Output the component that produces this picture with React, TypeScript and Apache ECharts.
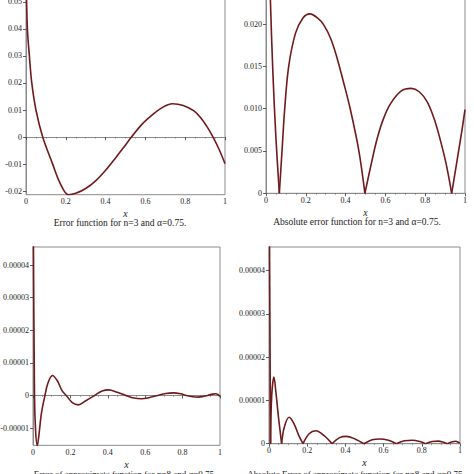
import React, { useEffect, useRef } from "react";
import * as echarts from "echarts";

// ---- Data ----
// Top-left: error function, n=3, alpha=0.75
const errX = [0, 0.007, 0.017, 0.029, 0.05, 0.084, 0.134, 0.171, 0.213, 0.25, 0.3, 0.35, 0.4, 0.45, 0.5, 0.53, 0.58, 0.63, 0.68, 0.735, 0.79, 0.844, 0.877, 0.911, 0.94, 0.97, 1.0];
const errY = [0.062, 0.04, 0.03, 0.02, 0.01, 0, -0.01, -0.017, -0.0213, -0.0208, -0.019, -0.0162, -0.0123, -0.0077, -0.0029, 0, 0.0045, 0.0079, 0.0107, 0.0123, 0.0117, 0.0097, 0.0072, 0.0037, 0, -0.0045, -0.0098];

// Top-right: absolute error, arches between zeros
const absErrArchesX = [
  [0, 0.007, 0.014, 0.022, 0.035, 0.05, 0.067],
  [0.067, 0.0805, 0.094, 0.114, 0.148, 0.185, 0.22, 0.26, 0.29, 0.325, 0.357, 0.39, 0.424, 0.466, 0.497],
  [0.497, 0.53, 0.559, 0.59, 0.626, 0.68, 0.73, 0.77, 0.81, 0.845, 0.877, 0.905, 0.933],
  [0.933, 0.95, 0.97, 0.985, 1.0],
];
const absErrArchesY = [
  [0.062, 0.04, 0.03, 0.0229, 0.014, 0.0065, 0],
  [0, 0.005, 0.01, 0.015, 0.0189, 0.0207, 0.0212, 0.0207, 0.0199, 0.0183, 0.016, 0.0131, 0.0099, 0.0051, 0],
  [0, 0.0036, 0.0065, 0.0088, 0.0106, 0.0121, 0.0124, 0.012, 0.0108, 0.0088, 0.0062, 0.0035, 0],
  [0, 0.0024, 0.0053, 0.0075, 0.0099],
];

// Bottom-left: error function (second case)
const err2X = [0, 0.008, 0.014, 0.023, 0.032, 0.045, 0.064, 0.08, 0.104, 0.13, 0.155, 0.178, 0.21, 0.242, 0.28, 0.33, 0.37, 0.405, 0.45, 0.497, 0.54, 0.58, 0.62, 0.667, 0.71, 0.75, 0.79, 0.82, 0.855, 0.885, 0.91, 0.934, 0.96, 0.978, 0.99, 1.0];
const err2Y = [7e-5, 0, -1.1e-5, -1.54e-5, -1.2e-5, -0.55e-5, 0, 0.38e-5, 0.61e-5, 0.45e-5, 0.15e-5, 0, -0.22e-5, -0.29e-5, -0.17e-5, 0, 0.14e-5, 0.17e-5, 0.1e-5, 0, -0.08e-5, -0.1e-5, -0.07e-5, 0, 0.06e-5, 0.08e-5, 0.05e-5, 0, -0.04e-5, -0.05e-5, -0.03e-5, 0, 0.04e-5, 0.05e-5, 0.02e-5, -0.03e-5];

// Bottom-right: absolute error (second case), arches between zeros
const absErr2ArchesX = [
  [0, 0.008],
  [0.008, 0.014, 0.026, 0.036, 0.05, 0.066],
  [0.066, 0.08, 0.105, 0.13, 0.155, 0.178],
  [0.178, 0.21, 0.245, 0.29, 0.33],
  [0.33, 0.37, 0.405, 0.45, 0.497],
  [0.497, 0.54, 0.58, 0.625, 0.667],
  [0.667, 0.71, 0.75, 0.79, 0.82],
  [0.82, 0.855, 0.885, 0.91, 0.934],
  [0.934, 0.96, 0.978, 0.993, 1.0],
];
const absErr2ArchesY = [
  [7e-5, 0],
  [0, 1.1e-5, 1.54e-5, 1.2e-5, 0.6e-5, 0],
  [0, 0.38e-5, 0.61e-5, 0.47e-5, 0.2e-5, 0],
  [0, 0.23e-5, 0.3e-5, 0.18e-5, 0],
  [0, 0.14e-5, 0.17e-5, 0.11e-5, 0],
  [0, 0.09e-5, 0.11e-5, 0.08e-5, 0],
  [0, 0.07e-5, 0.08e-5, 0.05e-5, 0],
  [0, 0.05e-5, 0.06e-5, 0.04e-5, 0],
  [0, 0.045e-5, 0.055e-5, 0.03e-5, 0.02e-5],
];

// Tick values and labels
const xTicks = [0, 0.2, 0.4, 0.6, 0.8, 1];
const xTickLabels = ["0", "0.2", "0.4", "0.6", "0.8", "1"];
const tlTicks = [-0.02, -0.01, 0, 0.01, 0.02, 0.03, 0.04, 0.05];
const tlTickLabels = ["-0.02", "-0.01", "0", "0.01", "0.02", "0.03", "0.04", "0.05"];
const trTicks = [0, 0.005, 0.01, 0.015, 0.02];
const trTickLabels = ["0", "0.005", "0.010", "0.015", "0.020"];
const blTicks = [-0.00001, 0, 0.00001, 0.00002, 0.00003, 0.00004];
const blTickLabels = ["-0.00001", "0", "0.00001", "0.00002", "0.00003", "0.00004"];
const brTicks = [0, 0.00001, 0.00002, 0.00003, 0.00004];
const brTickLabels = ["0", "0.00001", "0.00002", "0.00003", "0.00004"];

const captions = [
  "Error function for n=3 and α=0.75.",
  "Absolute error function for n=3 and α=0.75.",
  "Error of approximate function for n=8 and α=0.75.",
  "Absolute Error of approximate function for n=8 and α=0.75.",
];

const FONT = "Liberation Serif";
const LINE_COLOR = "#6f1a1c";
const FRAME = "#8a8a8a";

function pairs(xs: number[], ys: number[]) {
  return xs.map((x, i) => [x, ys[i]]);
}

function lookupLabel(ticks: number[], labels: string[]) {
  return (v: number) => {
    const i = ticks.findIndex((t) => Math.abs(t - v) < Math.abs(t) * 1e-6 + 1e-12);
    return i >= 0 ? labels[i] : "";
  };
}

export default function App() {
  const ref = useRef<HTMLDivElement>(null);
  useEffect(() => {
    if (!ref.current) return;
    const chart = echarts.init(ref.current, undefined, { renderer: "svg" });

    const grids = [
      { left: 26, top: -12, width: 199, height: 206.7 },
      { left: 266, top: -3, width: 199, height: 196.3 },
      { left: 33, top: 247, width: 187, height: 198.3 },
      { left: 269, top: 247, width: 191, height: 196.7 },
    ];
    const yRanges = [
      [-0.0213, 0.0551],
      [0, 0.0232],
      [-1.53e-5, 4.556e-5],
      [0, 4.547e-5],
    ];
    const yTicks = [tlTicks, trTicks, blTicks, brTicks];
    const yLabels = [tlTickLabels, trTickLabels, blTickLabels, brTickLabels];

    const axisLine = { show: true, lineStyle: { color: FRAME, width: 1 } };
    const axisTick = { show: true, length: 3, inside: false, lineStyle: { color: "#333", width: 0.8 } };

    const xAxis = grids.map((_, i) => ({
      type: "value",
      gridIndex: i,
      min: 0,
      max: 1,
      interval: 0.2,
      axisLine,
      axisTick,
      minorTick: { show: true, splitNumber: 4, length: 1.5, lineStyle: { color: "#666", width: 0.6 } },
      splitLine: { show: false },
      axisLabel: {
        fontFamily: FONT,
        fontSize: 8,
        color: "#222",
        margin: 3,
        customValues: xTicks,
        formatter: lookupLabel(xTicks, xTickLabels),
      },
      name: "x",
      nameLocation: "middle",
      nameGap: 14,
      nameTextStyle: { fontFamily: FONT, fontStyle: "italic", fontSize: 10, color: "#222" },
    }));

    const yAxis = grids.map((_, i) => ({
      type: "value",
      gridIndex: i,
      min: yRanges[i][0],
      max: yRanges[i][1],
      axisLine,
      axisTick: { ...axisTick, customValues: yTicks[i] },
      splitLine: { show: false },
      axisLabel: {
        fontFamily: FONT,
        fontSize: 8,
        color: "#222",
        margin: 4,
        customValues: yTicks[i],
        formatter: lookupLabel(yTicks[i], yLabels[i]),
      },
    }));

    const lineSeries = (data: number[][], idx: number) => ({
      type: "line",
      xAxisIndex: idx,
      yAxisIndex: idx,
      data,
      showSymbol: false,
      symbol: "none",
      smooth: 0.35,
      clip: true,
      lineStyle: { color: LINE_COLOR, width: 1.6 },
      silent: true,
    });

    const series: any[] = [];
    series.push(lineSeries(pairs(errX, errY), 0));
    absErrArchesX.forEach((xs, k) => series.push(lineSeries(pairs(xs, absErrArchesY[k]), 1)));
    series.push(lineSeries(pairs(err2X, err2Y), 2));
    absErr2ArchesX.forEach((xs, k) => series.push(lineSeries(pairs(xs, absErr2ArchesY[k]), 3)));

    const capPos = [
      [120, 223],
      [357, 221.5],
      [125, 473.5],
      [356, 473.5],
    ];
    const capSize = [9.5, 9.5, 9, 9];

    chart.setOption({
      animation: false,
      backgroundColor: "#ffffff",
      grid: grids.map((g) => ({
        ...g,
        show: true,
        borderColor: FRAME,
        borderWidth: 1,
        backgroundColor: "transparent",
        containLabel: false,
        outerBoundsMode: "none",
      })),
      xAxis,
      yAxis,
      series,
      graphic: captions.map((c, i) => ({
        type: "text",
        x: capPos[i][0],
        y: capPos[i][1],
        style: {
          text: c,
          fontFamily: FONT,
          fontSize: capSize[i],
          fill: "#222",
          textAlign: "center",
          textVerticalAlign: "middle",
        },
      })),
    });
    return () => chart.dispose();
  }, []);
  return (
    <div
      ref={ref}
      style={{ position: "fixed", left: 0, top: 0, width: 474, height: 474, background: "#fff" }}
    />
  );
}
